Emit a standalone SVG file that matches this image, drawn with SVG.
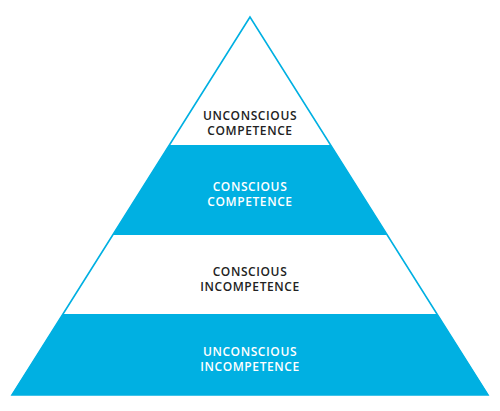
<svg xmlns="http://www.w3.org/2000/svg" width="500" height="411" viewBox="0 0 500 411">
<style>
.blue{fill:#00b0e2}
.outline{fill:#ffffff;stroke:#00b0e2;stroke-width:1.6;stroke-linejoin:miter}
text{font-family:"Open Sans","Liberation Sans",sans-serif;font-weight:600;font-size:12px;text-anchor:middle;letter-spacing:0.6px}
.dark{fill:#222222}
.light{fill:#ffffff}
</style>
<rect width="500" height="411" fill="#ffffff"/>
<g id="outline">
<polygon class="outline" points="250,17 12,395 488,395"/>
</g>
<g id="unconscious-competence">
<text class="dark" x="250" y="120">UNCONSCIOUS</text>
<text class="dark" x="250" y="134.5">COMPETENCE</text>
</g>
<g id="conscious-competence">
<polygon class="blue" points="169.4,145 330.6,145 387.3,235 112.7,235"/>
<text class="light" x="250" y="191">CONSCIOUS</text>
<text class="light" x="250" y="205.5">COMPETENCE</text>
</g>
<g id="conscious-incompetence">
<text class="dark" x="250" y="276">CONSCIOUS</text>
<text class="dark" x="250" y="290.5">INCOMPETENCE</text>
</g>
<g id="unconscious-incompetence">
<polygon class="blue" points="63,314 437,314 488.5,395 11.5,395"/>
<text class="light" x="250" y="356">UNCONSCIOUS</text>
<text class="light" x="250" y="370.5">INCOMPETENCE</text>
</g>
<g id="connectors"></g>
</svg>
